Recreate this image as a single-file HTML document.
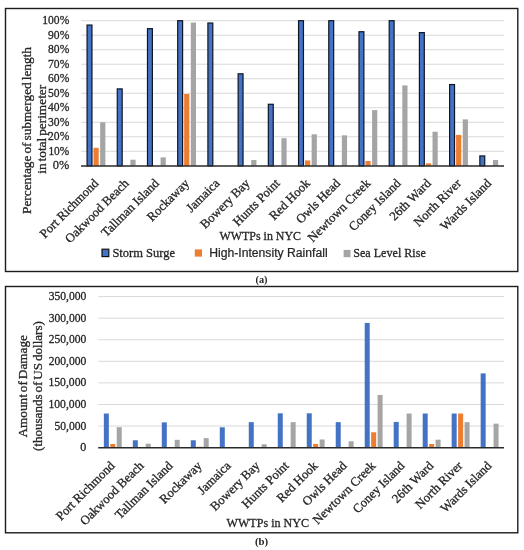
<!DOCTYPE html>
<html><head><meta charset="utf-8"><style>
html,body{margin:0;padding:0;background:#fff;}
body{width:524px;height:550px;overflow:hidden;}
svg{display:block;will-change:transform;}
</style></head><body>
<svg width="524" height="550" viewBox="0 0 524 550">
<rect x="0" y="0" width="524" height="550" fill="#fff"/>
<rect x="5.5" y="8.5" width="512.3" height="263" fill="none" stroke="#1c1c1c" stroke-width="1.4"/>
<rect x="5.5" y="286.5" width="512.3" height="246.3" fill="none" stroke="#1c1c1c" stroke-width="1.4"/>
<line x1="81.0" y1="151.29" x2="504.0" y2="151.29" stroke="#D9D9D9" stroke-width="1"/>
<line x1="81.0" y1="136.78" x2="504.0" y2="136.78" stroke="#D9D9D9" stroke-width="1"/>
<line x1="81.0" y1="122.27" x2="504.0" y2="122.27" stroke="#D9D9D9" stroke-width="1"/>
<line x1="81.0" y1="107.76" x2="504.0" y2="107.76" stroke="#D9D9D9" stroke-width="1"/>
<line x1="81.0" y1="93.25" x2="504.0" y2="93.25" stroke="#D9D9D9" stroke-width="1"/>
<line x1="81.0" y1="78.74" x2="504.0" y2="78.74" stroke="#D9D9D9" stroke-width="1"/>
<line x1="81.0" y1="64.23" x2="504.0" y2="64.23" stroke="#D9D9D9" stroke-width="1"/>
<line x1="81.0" y1="49.72" x2="504.0" y2="49.72" stroke="#D9D9D9" stroke-width="1"/>
<line x1="81.0" y1="35.21" x2="504.0" y2="35.21" stroke="#D9D9D9" stroke-width="1"/>
<line x1="81.0" y1="20.70" x2="504.0" y2="20.70" stroke="#D9D9D9" stroke-width="1"/>
<text class="t" id="t1" x="69.3" y="169.40" font-family='"Liberation Serif", serif' font-size="12.4" fill="#262626" stroke="#262626" stroke-width="0.3" text-anchor="end" textLength="16.53" lengthAdjust="spacingAndGlyphs">0%</text>
<text class="t" id="t2" x="69.3" y="154.89" font-family='"Liberation Serif", serif' font-size="12.4" fill="#262626" stroke="#262626" stroke-width="0.3" text-anchor="end" textLength="20.91" lengthAdjust="spacingAndGlyphs">10%</text>
<text class="t" id="t3" x="69.3" y="140.38" font-family='"Liberation Serif", serif' font-size="12.4" fill="#262626" stroke="#262626" stroke-width="0.3" text-anchor="end" textLength="21.25" lengthAdjust="spacingAndGlyphs">20%</text>
<text class="t" id="t4" x="69.3" y="125.87" font-family='"Liberation Serif", serif' font-size="12.4" fill="#262626" stroke="#262626" stroke-width="0.3" text-anchor="end" textLength="21.25" lengthAdjust="spacingAndGlyphs">30%</text>
<text class="t" id="t5" x="69.3" y="111.36" font-family='"Liberation Serif", serif' font-size="12.4" fill="#262626" stroke="#262626" stroke-width="0.3" text-anchor="end" textLength="21.25" lengthAdjust="spacingAndGlyphs">40%</text>
<text class="t" id="t6" x="69.3" y="96.85" font-family='"Liberation Serif", serif' font-size="12.4" fill="#262626" stroke="#262626" stroke-width="0.3" text-anchor="end" textLength="21.25" lengthAdjust="spacingAndGlyphs">50%</text>
<text class="t" id="t7" x="69.3" y="82.34" font-family='"Liberation Serif", serif' font-size="12.4" fill="#262626" stroke="#262626" stroke-width="0.3" text-anchor="end" textLength="21.25" lengthAdjust="spacingAndGlyphs">60%</text>
<text class="t" id="t8" x="69.3" y="67.83" font-family='"Liberation Serif", serif' font-size="12.4" fill="#262626" stroke="#262626" stroke-width="0.3" text-anchor="end" textLength="21.25" lengthAdjust="spacingAndGlyphs">70%</text>
<text class="t" id="t9" x="69.3" y="53.32" font-family='"Liberation Serif", serif' font-size="12.4" fill="#262626" stroke="#262626" stroke-width="0.3" text-anchor="end" textLength="21.25" lengthAdjust="spacingAndGlyphs">80%</text>
<text class="t" id="t10" x="69.3" y="38.81" font-family='"Liberation Serif", serif' font-size="12.4" fill="#262626" stroke="#262626" stroke-width="0.3" text-anchor="end" textLength="21.25" lengthAdjust="spacingAndGlyphs">90%</text>
<text class="t" id="t11" x="69.3" y="24.30" font-family='"Liberation Serif", serif' font-size="12.4" fill="#262626" stroke="#262626" stroke-width="0.3" text-anchor="end" textLength="27.05" lengthAdjust="spacingAndGlyphs">100%</text>
<rect x="87.06" y="25.05" width="4.9" height="140.75" fill="#4472C4" stroke="#0d1526" stroke-width="1.2"/>
<rect x="93.51" y="147.81" width="5.2" height="17.99" fill="#ED7D31"/>
<rect x="100.16" y="122.27" width="5.2" height="43.53" fill="#A5A5A5"/>
<rect x="117.27" y="88.90" width="4.9" height="76.90" fill="#4472C4" stroke="#0d1526" stroke-width="1.2"/>
<rect x="130.37" y="159.71" width="5.2" height="6.09" fill="#A5A5A5"/>
<rect x="147.49" y="28.68" width="4.9" height="137.12" fill="#4472C4" stroke="#0d1526" stroke-width="1.2"/>
<rect x="160.59" y="157.38" width="5.2" height="8.42" fill="#A5A5A5"/>
<rect x="177.70" y="20.70" width="4.9" height="145.10" fill="#4472C4" stroke="#0d1526" stroke-width="1.2"/>
<rect x="184.15" y="93.98" width="5.2" height="71.82" fill="#ED7D31"/>
<rect x="190.80" y="22.59" width="5.2" height="143.21" fill="#A5A5A5"/>
<rect x="207.91" y="23.02" width="4.9" height="142.78" fill="#4472C4" stroke="#0d1526" stroke-width="1.2"/>
<rect x="238.13" y="73.81" width="4.9" height="91.99" fill="#4472C4" stroke="#0d1526" stroke-width="1.2"/>
<rect x="251.23" y="160.00" width="5.2" height="5.80" fill="#A5A5A5"/>
<rect x="268.34" y="104.28" width="4.9" height="61.52" fill="#4472C4" stroke="#0d1526" stroke-width="1.2"/>
<rect x="281.44" y="138.23" width="5.2" height="27.57" fill="#A5A5A5"/>
<rect x="298.56" y="20.70" width="4.9" height="145.10" fill="#4472C4" stroke="#0d1526" stroke-width="1.2"/>
<rect x="305.01" y="160.43" width="5.2" height="5.37" fill="#ED7D31"/>
<rect x="311.66" y="134.31" width="5.2" height="31.49" fill="#A5A5A5"/>
<rect x="328.77" y="20.70" width="4.9" height="145.10" fill="#4472C4" stroke="#0d1526" stroke-width="1.2"/>
<rect x="341.87" y="135.33" width="5.2" height="30.47" fill="#A5A5A5"/>
<rect x="358.99" y="31.73" width="4.9" height="134.07" fill="#4472C4" stroke="#0d1526" stroke-width="1.2"/>
<rect x="365.44" y="161.01" width="5.2" height="4.79" fill="#ED7D31"/>
<rect x="372.09" y="110.08" width="5.2" height="55.72" fill="#A5A5A5"/>
<rect x="389.20" y="20.70" width="4.9" height="145.10" fill="#4472C4" stroke="#0d1526" stroke-width="1.2"/>
<rect x="402.30" y="85.41" width="5.2" height="80.39" fill="#A5A5A5"/>
<rect x="419.41" y="32.60" width="4.9" height="133.20" fill="#4472C4" stroke="#0d1526" stroke-width="1.2"/>
<rect x="425.86" y="163.33" width="5.2" height="2.47" fill="#ED7D31"/>
<rect x="432.51" y="131.70" width="5.2" height="34.10" fill="#A5A5A5"/>
<rect x="449.63" y="84.54" width="4.9" height="81.26" fill="#4472C4" stroke="#0d1526" stroke-width="1.2"/>
<rect x="456.08" y="134.89" width="5.2" height="30.91" fill="#ED7D31"/>
<rect x="462.73" y="119.37" width="5.2" height="46.43" fill="#A5A5A5"/>
<rect x="479.84" y="155.93" width="4.9" height="9.87" fill="#4472C4" stroke="#0d1526" stroke-width="1.2"/>
<rect x="492.94" y="160.00" width="5.2" height="5.80" fill="#A5A5A5"/>
<line x1="81.0" y1="166.0" x2="504.0" y2="166.0" stroke="#2a2a2a" stroke-width="1.5"/>
<text class="t" id="t12" x="99.31" y="184.10" font-family='"Liberation Serif", serif' font-size="12.7" fill="#262626" stroke="#262626" stroke-width="0.3" text-anchor="end" transform="rotate(-45 99.31 184.10)">Port Richmond</text>
<text class="t" id="t13" x="129.52" y="184.10" font-family='"Liberation Serif", serif' font-size="12.7" fill="#262626" stroke="#262626" stroke-width="0.3" text-anchor="end" transform="rotate(-45 129.52 184.10)">Oakwood Beach</text>
<text class="t" id="t14" x="159.74" y="184.10" font-family='"Liberation Serif", serif' font-size="12.7" fill="#262626" stroke="#262626" stroke-width="0.3" text-anchor="end" transform="rotate(-45 159.74 184.10)">Tallman Island</text>
<text class="t" id="t15" x="189.95" y="184.10" font-family='"Liberation Serif", serif' font-size="12.7" fill="#262626" stroke="#262626" stroke-width="0.3" text-anchor="end" transform="rotate(-45 189.95 184.10)">Rockaway</text>
<text class="t" id="t16" x="220.16" y="184.10" font-family='"Liberation Serif", serif' font-size="12.7" fill="#262626" stroke="#262626" stroke-width="0.3" text-anchor="end" transform="rotate(-45 220.16 184.10)">Jamaica</text>
<text class="t" id="t17" x="250.38" y="184.10" font-family='"Liberation Serif", serif' font-size="12.7" fill="#262626" stroke="#262626" stroke-width="0.3" text-anchor="end" transform="rotate(-45 250.38 184.10)">Bowery Bay</text>
<text class="t" id="t18" x="280.59" y="184.10" font-family='"Liberation Serif", serif' font-size="12.7" fill="#262626" stroke="#262626" stroke-width="0.3" text-anchor="end" transform="rotate(-45 280.59 184.10)">Hunts Point</text>
<text class="t" id="t19" x="310.81" y="184.10" font-family='"Liberation Serif", serif' font-size="12.7" fill="#262626" stroke="#262626" stroke-width="0.3" text-anchor="end" transform="rotate(-45 310.81 184.10)">Red Hook</text>
<text class="t" id="t20" x="341.02" y="184.10" font-family='"Liberation Serif", serif' font-size="12.7" fill="#262626" stroke="#262626" stroke-width="0.3" text-anchor="end" transform="rotate(-45 341.02 184.10)">Owls Head</text>
<text class="t" id="t21" x="371.24" y="184.10" font-family='"Liberation Serif", serif' font-size="12.7" fill="#262626" stroke="#262626" stroke-width="0.3" text-anchor="end" transform="rotate(-45 371.24 184.10)">Newtown Creek</text>
<text class="t" id="t22" x="401.45" y="184.10" font-family='"Liberation Serif", serif' font-size="12.7" fill="#262626" stroke="#262626" stroke-width="0.3" text-anchor="end" transform="rotate(-45 401.45 184.10)">Coney Island</text>
<text class="t" id="t23" x="431.66" y="184.10" font-family='"Liberation Serif", serif' font-size="12.7" fill="#262626" stroke="#262626" stroke-width="0.3" text-anchor="end" transform="rotate(-45 431.66 184.10)">26th Ward</text>
<text class="t" id="t24" x="461.88" y="184.10" font-family='"Liberation Serif", serif' font-size="12.7" fill="#262626" stroke="#262626" stroke-width="0.3" text-anchor="end" transform="rotate(-45 461.88 184.10)">North River</text>
<text class="t" id="t25" x="492.09" y="184.10" font-family='"Liberation Serif", serif' font-size="12.7" fill="#262626" stroke="#262626" stroke-width="0.3" text-anchor="end" transform="rotate(-45 492.09 184.10)">Wards Island</text>
<text class="t" id="t26" x="31" y="130.5" font-family='"Liberation Serif", serif' font-size="12.7" fill="#262626" stroke="#262626" stroke-width="0.3" text-anchor="middle" textLength="167" lengthAdjust="spacingAndGlyphs" transform="rotate(-90 31 130.5)" word-spacing="-1.3">Percentage of submerged length</text>
<text class="t" id="t27" x="46.3" y="129.3" font-family='"Liberation Serif", serif' font-size="12.7" fill="#262626" stroke="#262626" stroke-width="0.3" text-anchor="middle" textLength="89" lengthAdjust="spacingAndGlyphs" transform="rotate(-90 46.3 129.3)" word-spacing="-1.3">in total perimeter</text>
<text class="t" id="t28" x="260.3" y="239.8" font-family='"Liberation Serif", serif' font-size="13" fill="#262626" stroke="#262626" stroke-width="0.3" text-anchor="middle" textLength="81.5" lengthAdjust="spacingAndGlyphs">WWTPs in NYC</text>
<rect x="102" y="249.2" width="6.8" height="7.4" fill="#4472C4" stroke="#111" stroke-width="1.2"/>
<text class="t" id="t29" x="112.4" y="257.2" font-family='"Liberation Serif", serif' font-size="13" fill="#262626" stroke="#262626" stroke-width="0.3" textLength="62.6" lengthAdjust="spacingAndGlyphs">Storm Surge</text>
<rect x="194.8" y="249.4" width="7.2" height="7.2" fill="#ED7D31"/>
<text class="t" id="t30" x="209.2" y="257.2" font-family='"Liberation Sans", sans-serif' font-size="12" fill="#262626" stroke="#262626" stroke-width="0.22" textLength="118.4" lengthAdjust="spacingAndGlyphs">High-Intensity Rainfall</text>
<rect x="343.6" y="249.9" width="6.9" height="7.3" fill="#A5A5A5"/>
<text class="t" id="t31" x="353.2" y="257.2" font-family='"Liberation Serif", serif' font-size="13" fill="#262626" stroke="#262626" stroke-width="0.3" textLength="72.6" lengthAdjust="spacingAndGlyphs">Sea Level Rise</text>
<text class="t" id="t32" x="261.5" y="282.8" font-family='"Liberation Serif", serif' font-size="10.3" fill="#262626" stroke="#262626" stroke-width="0" text-anchor="middle" font-weight="bold">(a)</text>
<line x1="98.2" y1="426.03" x2="504.0" y2="426.03" stroke="#D9D9D9" stroke-width="1"/>
<line x1="98.2" y1="404.46" x2="504.0" y2="404.46" stroke="#D9D9D9" stroke-width="1"/>
<line x1="98.2" y1="382.89" x2="504.0" y2="382.89" stroke="#D9D9D9" stroke-width="1"/>
<line x1="98.2" y1="361.31" x2="504.0" y2="361.31" stroke="#D9D9D9" stroke-width="1"/>
<line x1="98.2" y1="339.74" x2="504.0" y2="339.74" stroke="#D9D9D9" stroke-width="1"/>
<line x1="98.2" y1="318.17" x2="504.0" y2="318.17" stroke="#D9D9D9" stroke-width="1"/>
<line x1="98.2" y1="296.60" x2="504.0" y2="296.60" stroke="#D9D9D9" stroke-width="1"/>
<text class="t" id="t33" x="86.3" y="451.10" font-family='"Liberation Serif", serif' font-size="12" fill="#262626" stroke="#262626" stroke-width="0.3" text-anchor="end">0</text>
<text class="t" id="t34" x="86.3" y="429.53" font-family='"Liberation Serif", serif' font-size="12" fill="#262626" stroke="#262626" stroke-width="0.3" text-anchor="end" textLength="31.84" lengthAdjust="spacingAndGlyphs">50,000</text>
<text class="t" id="t35" x="86.3" y="407.96" font-family='"Liberation Serif", serif' font-size="12" fill="#262626" stroke="#262626" stroke-width="0.3" text-anchor="end" textLength="37.83" lengthAdjust="spacingAndGlyphs">100,000</text>
<text class="t" id="t36" x="86.3" y="386.39" font-family='"Liberation Serif", serif' font-size="12" fill="#262626" stroke="#262626" stroke-width="0.3" text-anchor="end" textLength="37.83" lengthAdjust="spacingAndGlyphs">150,000</text>
<text class="t" id="t37" x="86.3" y="364.81" font-family='"Liberation Serif", serif' font-size="12" fill="#262626" stroke="#262626" stroke-width="0.3" text-anchor="end" textLength="37.63" lengthAdjust="spacingAndGlyphs">200,000</text>
<text class="t" id="t38" x="86.3" y="343.24" font-family='"Liberation Serif", serif' font-size="12" fill="#262626" stroke="#262626" stroke-width="0.3" text-anchor="end" textLength="37.63" lengthAdjust="spacingAndGlyphs">250,000</text>
<text class="t" id="t39" x="86.3" y="321.67" font-family='"Liberation Serif", serif' font-size="12" fill="#262626" stroke="#262626" stroke-width="0.3" text-anchor="end" textLength="37.63" lengthAdjust="spacingAndGlyphs">300,000</text>
<text class="t" id="t40" x="86.3" y="300.10" font-family='"Liberation Serif", serif' font-size="12" fill="#262626" stroke="#262626" stroke-width="0.3" text-anchor="end" textLength="37.63" lengthAdjust="spacingAndGlyphs">350,000</text>
<rect x="103.84" y="413.52" width="5.0" height="34.08" fill="#4472C4"/>
<rect x="110.29" y="444.02" width="5.0" height="3.58" fill="#ED7D31"/>
<rect x="116.74" y="427.19" width="5.0" height="20.41" fill="#A5A5A5"/>
<rect x="132.83" y="440.27" width="5.0" height="7.33" fill="#4472C4"/>
<rect x="145.73" y="443.72" width="5.0" height="3.88" fill="#A5A5A5"/>
<rect x="161.81" y="422.36" width="5.0" height="25.24" fill="#4472C4"/>
<rect x="174.71" y="439.83" width="5.0" height="7.77" fill="#A5A5A5"/>
<rect x="190.80" y="440.27" width="5.0" height="7.33" fill="#4472C4"/>
<rect x="197.25" y="446.74" width="5.0" height="0.86" fill="#ED7D31"/>
<rect x="203.70" y="438.11" width="5.0" height="9.49" fill="#A5A5A5"/>
<rect x="219.79" y="427.32" width="5.0" height="20.28" fill="#4472C4"/>
<rect x="248.77" y="422.15" width="5.0" height="25.45" fill="#4472C4"/>
<rect x="261.67" y="444.28" width="5.0" height="3.32" fill="#A5A5A5"/>
<rect x="277.76" y="413.30" width="5.0" height="34.30" fill="#4472C4"/>
<rect x="290.66" y="422.15" width="5.0" height="25.45" fill="#A5A5A5"/>
<rect x="306.74" y="413.30" width="5.0" height="34.30" fill="#4472C4"/>
<rect x="313.19" y="443.93" width="5.0" height="3.67" fill="#ED7D31"/>
<rect x="319.64" y="439.49" width="5.0" height="8.11" fill="#A5A5A5"/>
<rect x="335.73" y="422.15" width="5.0" height="25.45" fill="#4472C4"/>
<rect x="348.63" y="441.30" width="5.0" height="6.30" fill="#A5A5A5"/>
<rect x="364.71" y="322.92" width="5.0" height="124.68" fill="#4472C4"/>
<rect x="371.16" y="432.28" width="5.0" height="15.32" fill="#ED7D31"/>
<rect x="377.61" y="394.97" width="5.0" height="52.63" fill="#A5A5A5"/>
<rect x="393.70" y="421.93" width="5.0" height="25.67" fill="#4472C4"/>
<rect x="406.60" y="413.52" width="5.0" height="34.08" fill="#A5A5A5"/>
<rect x="422.69" y="413.52" width="5.0" height="34.08" fill="#4472C4"/>
<rect x="429.14" y="444.02" width="5.0" height="3.58" fill="#ED7D31"/>
<rect x="435.59" y="439.70" width="5.0" height="7.90" fill="#A5A5A5"/>
<rect x="451.67" y="413.52" width="5.0" height="34.08" fill="#4472C4"/>
<rect x="458.12" y="413.52" width="5.0" height="34.08" fill="#ED7D31"/>
<rect x="464.57" y="422.15" width="5.0" height="25.45" fill="#A5A5A5"/>
<rect x="480.66" y="373.39" width="5.0" height="74.21" fill="#4472C4"/>
<rect x="493.56" y="423.66" width="5.0" height="23.94" fill="#A5A5A5"/>
<line x1="98.2" y1="447.70000000000005" x2="504.0" y2="447.70000000000005" stroke="#2a2a2a" stroke-width="1.5"/>
<text class="t" id="t41" x="115.49" y="466.40" font-family='"Liberation Serif", serif' font-size="12.7" fill="#262626" stroke="#262626" stroke-width="0.3" text-anchor="end" transform="rotate(-45 115.49 466.40)">Port Richmond</text>
<text class="t" id="t42" x="144.48" y="466.40" font-family='"Liberation Serif", serif' font-size="12.7" fill="#262626" stroke="#262626" stroke-width="0.3" text-anchor="end" transform="rotate(-45 144.48 466.40)">Oakwood Beach</text>
<text class="t" id="t43" x="173.46" y="466.40" font-family='"Liberation Serif", serif' font-size="12.7" fill="#262626" stroke="#262626" stroke-width="0.3" text-anchor="end" transform="rotate(-45 173.46 466.40)">Tallman Island</text>
<text class="t" id="t44" x="202.45" y="466.40" font-family='"Liberation Serif", serif' font-size="12.7" fill="#262626" stroke="#262626" stroke-width="0.3" text-anchor="end" transform="rotate(-45 202.45 466.40)">Rockaway</text>
<text class="t" id="t45" x="231.44" y="466.40" font-family='"Liberation Serif", serif' font-size="12.7" fill="#262626" stroke="#262626" stroke-width="0.3" text-anchor="end" transform="rotate(-45 231.44 466.40)">Jamaica</text>
<text class="t" id="t46" x="260.42" y="466.40" font-family='"Liberation Serif", serif' font-size="12.7" fill="#262626" stroke="#262626" stroke-width="0.3" text-anchor="end" transform="rotate(-45 260.42 466.40)">Bowery Bay</text>
<text class="t" id="t47" x="289.41" y="466.40" font-family='"Liberation Serif", serif' font-size="12.7" fill="#262626" stroke="#262626" stroke-width="0.3" text-anchor="end" transform="rotate(-45 289.41 466.40)">Hunts Point</text>
<text class="t" id="t48" x="318.39" y="466.40" font-family='"Liberation Serif", serif' font-size="12.7" fill="#262626" stroke="#262626" stroke-width="0.3" text-anchor="end" transform="rotate(-45 318.39 466.40)">Red Hook</text>
<text class="t" id="t49" x="347.38" y="466.40" font-family='"Liberation Serif", serif' font-size="12.7" fill="#262626" stroke="#262626" stroke-width="0.3" text-anchor="end" transform="rotate(-45 347.38 466.40)">Owls Head</text>
<text class="t" id="t50" x="376.36" y="466.40" font-family='"Liberation Serif", serif' font-size="12.7" fill="#262626" stroke="#262626" stroke-width="0.3" text-anchor="end" transform="rotate(-45 376.36 466.40)">Newtown Creek</text>
<text class="t" id="t51" x="405.35" y="466.40" font-family='"Liberation Serif", serif' font-size="12.7" fill="#262626" stroke="#262626" stroke-width="0.3" text-anchor="end" transform="rotate(-45 405.35 466.40)">Coney Island</text>
<text class="t" id="t52" x="434.34" y="466.40" font-family='"Liberation Serif", serif' font-size="12.7" fill="#262626" stroke="#262626" stroke-width="0.3" text-anchor="end" transform="rotate(-45 434.34 466.40)">26th Ward</text>
<text class="t" id="t53" x="463.32" y="466.40" font-family='"Liberation Serif", serif' font-size="12.7" fill="#262626" stroke="#262626" stroke-width="0.3" text-anchor="end" transform="rotate(-45 463.32 466.40)">North River</text>
<text class="t" id="t54" x="492.31" y="466.40" font-family='"Liberation Serif", serif' font-size="12.7" fill="#262626" stroke="#262626" stroke-width="0.3" text-anchor="end" transform="rotate(-45 492.31 466.40)">Wards Island</text>
<text class="t" id="t55" x="26.6" y="386.3" font-family='"Liberation Serif", serif' font-size="12.7" fill="#262626" stroke="#262626" stroke-width="0.3" text-anchor="middle" textLength="102.5" lengthAdjust="spacingAndGlyphs" transform="rotate(-90 26.6 386.3)" word-spacing="-1.3">Amount of Damage</text>
<text class="t" id="t56" x="41.6" y="386.1" font-family='"Liberation Serif", serif' font-size="12.7" fill="#262626" stroke="#262626" stroke-width="0.3" text-anchor="middle" textLength="130" lengthAdjust="spacingAndGlyphs" transform="rotate(-90 41.6 386.1)" word-spacing="-1.3">(thousands of US dollars)</text>
<text class="t" id="t57" x="267.8" y="526.7" font-family='"Liberation Serif", serif' font-size="13" fill="#262626" stroke="#262626" stroke-width="0.3" text-anchor="middle" textLength="82.5" lengthAdjust="spacingAndGlyphs">WWTPs in NYC</text>
<text class="t" id="t58" x="261.6" y="544.6" font-family='"Liberation Serif", serif' font-size="10.8" fill="#262626" stroke="#262626" stroke-width="0" text-anchor="middle" font-weight="bold">(b)</text>
</svg>
</body></html>
